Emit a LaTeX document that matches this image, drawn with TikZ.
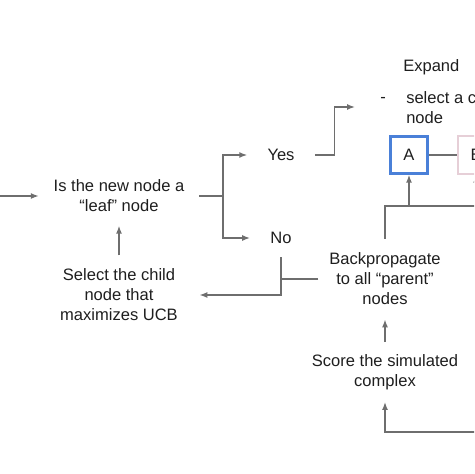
\documentclass[tikz,border=0pt]{standalone}
\usepackage{fontspec}
\setmainfont{Liberation Sans}
\usetikzlibrary{positioning,arrows.meta}
\definecolor{linegray}{HTML}{6E6E6E}
\definecolor{textdark}{HTML}{1E1E1E}
\definecolor{boxblue}{HTML}{4A80D8}
\definecolor{boxpink}{HTML}{E6CFD7}

\begin{document}
\begin{tikzpicture}[
      x=0.75pt, y=-0.75pt,
      every node/.style={font=\fontsize{12.4}{15}\selectfont,text=textdark},
      txt/.style={align=center,inner xsep=11pt,inner ysep=10pt},
      letter/.style={rectangle,draw,minimum size=27.75pt,inner sep=0pt},
      single/.style={draw=linegray,line width=1.1pt,-{Latex[length=6pt,width=4.5pt]}},
      plain/.style={draw=linegray,line width=1.1pt},
    ]
      \clip (0,0) rectangle (474,474);
      \node[txt] (leaf) at (119,196) {Is the new node a\\“leaf” node};
      \node[txt,inner xsep=16pt] (select) at (119,295) {Select the child\\node that\\maximizes UCB};
      \node[txt,inner xsep=15pt] (yes) at (281,155) {Yes};
      \node[txt,inner xsep=15pt] (no) at (281,238) {No};
      \node[txt,inner xsep=8pt,inner ysep=10.5pt] (back) at (385,279) {Backpropagate\\to all “parent”\\nodes};
      \node[txt,inner ysep=9pt] (score) at (385,372) {Score the simulated\\complex};
      \node[anchor=west,inner sep=0pt] (expand) at (403,67) {Expand};
      \node[inner sep=0pt] (dash) at (383,100) {-};
      \node[anchor=west,align=left,inner sep=0pt] (choose) at (406,108) {select a child\\node};
      \node[letter,draw=boxblue,line width=1.8pt] (A) at (409,155) {A};
      \node[letter,draw=boxpink,line width=1.5pt,right=21pt of A] (B) {B};
      \coordinate (start) at (-10,196);
      \coordinate (tip) at (355,107);
      \coordinate (busR) at (490,206);
      \coordinate (simR) at (490,432);
      \path[single] (start) -- (leaf.west);
      \path[plain] (leaf.east) -- ++(24,0) coordinate (fork);
      \path[single] (fork) |- (yes.west);
      \path[single] (fork) |- (no.west);
      \path[single] (yes.east) -- ++(20,0) |- (tip);
      \path[single] (select.north) -- (leaf.south);
      \path[single] (no.south) |- (select.east);
      \path[plain] (back.west) -- (back.west -| no.south);
      \path[single] (score.north) -- (back.south);
      \path[plain] (back.north) |- (busR);
      \path[single] (A.south |- busR) -- (A.south);
      \path[single] (B.south |- busR) -- (B.south);
      \path[plain] (A) -- (B);
      \path[single] (simR) -| (score.south);
    \end{tikzpicture}
\end{document}
